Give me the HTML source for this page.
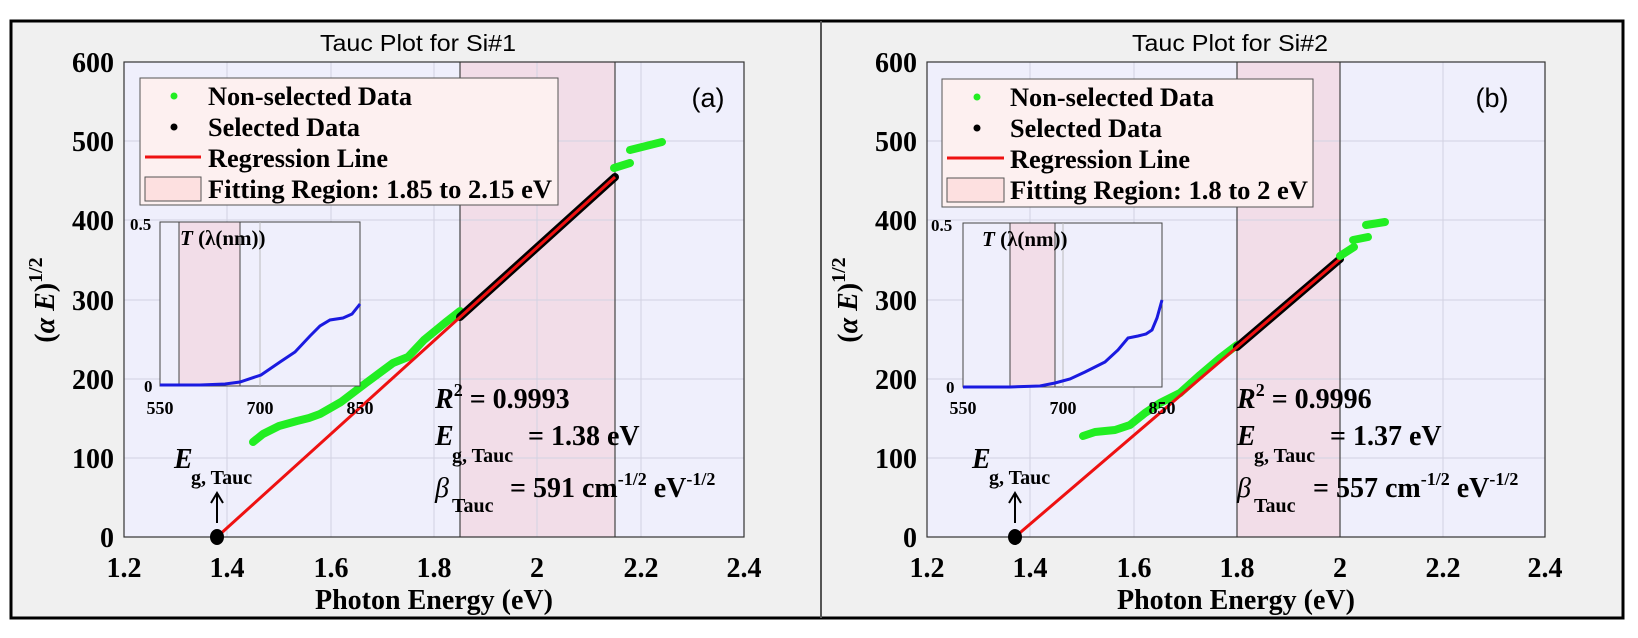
<!DOCTYPE html>
<html><head><meta charset="utf-8"><style>
html,body{margin:0;padding:0;background:#fff;}
svg{display:block;}
.t{font-family:"Liberation Serif",serif;font-weight:bold;fill:#000;}
.s{font-family:"Liberation Sans",sans-serif;fill:#000;}
</style></head><body>
<svg width="1638" height="638" viewBox="0 0 1638 638" xmlns="http://www.w3.org/2000/svg">
<rect x="11" y="21" width="1612" height="597" fill="#f0f0f0" stroke="#000" stroke-width="3"/>
<line x1="821" y1="21" x2="821" y2="618" stroke="#555" stroke-width="2"/>

<!-- LEFT PANEL -->
<g>
<rect x="124" y="62" width="620" height="475" fill="#efeffc"/>
<rect x="460" y="62" width="155" height="475" fill="#f2dde8"/>
<g stroke="#d2d2e2" stroke-width="1">
<line x1="227" y1="62" x2="227" y2="537"/><line x1="331" y1="62" x2="331" y2="537"/><line x1="434" y1="62" x2="434" y2="537"/><line x1="537" y1="62" x2="537" y2="537"/><line x1="641" y1="62" x2="641" y2="537"/>
<line x1="124" y1="458" x2="744" y2="458"/><line x1="124" y1="379" x2="744" y2="379"/><line x1="124" y1="300" x2="744" y2="300"/><line x1="124" y1="220" x2="744" y2="220"/><line x1="124" y1="141" x2="744" y2="141"/>
</g>
<line x1="460" y1="62" x2="460" y2="537" stroke="#444" stroke-width="1.2"/>
<line x1="615" y1="62" x2="615" y2="537" stroke="#444" stroke-width="1.2"/>
<rect x="124" y="62" width="620" height="475" fill="none" stroke="#333" stroke-width="1.2"/>
<text class="s" x="418" y="51" font-size="23" text-anchor="middle" textLength="196" lengthAdjust="spacingAndGlyphs">Tauc Plot for Si#1</text>
<g class="t" font-size="28" text-anchor="end">
<text x="114" y="547">0</text><text x="114" y="468">100</text><text x="114" y="389">200</text><text x="114" y="310">300</text><text x="114" y="230">400</text><text x="114" y="151">500</text><text x="114" y="72">600</text>
</g>
<g class="t" font-size="28" text-anchor="middle">
<text x="124" y="577">1.2</text><text x="227" y="577">1.4</text><text x="331" y="577">1.6</text><text x="434" y="577">1.8</text><text x="537" y="577">2</text><text x="641" y="577">2.2</text><text x="744" y="577">2.4</text>
</g>
<text class="t" x="434" y="609" font-size="28" text-anchor="middle">Photon Energy (eV)</text>
<text class="t" transform="translate(54,300) rotate(-90)" font-size="28" text-anchor="middle">(<tspan font-style="italic">α E</tspan>)<tspan font-size="20" dy="-12">1/2</tspan></text>
<text class="s" x="708" y="107" font-size="27" text-anchor="middle">(a)</text>
<polyline points="253,442 263,434 279,426 297,421 309,418 320,414 341,402 366,383 393,363 408,357 424,340 446,322 460,311" fill="none" stroke="#22ee22" stroke-width="8" stroke-linecap="round" stroke-linejoin="round"/>
<line x1="460" y1="317" x2="615" y2="177" stroke="#000" stroke-width="8" stroke-linecap="round"/>
<line x1="217" y1="537" x2="615" y2="177" stroke="#ee1111" stroke-width="3"/>
<line x1="614" y1="168" x2="630" y2="163" stroke="#22ee22" stroke-width="8" stroke-linecap="round"/>
<line x1="630" y1="150" x2="662" y2="142" stroke="#22ee22" stroke-width="8" stroke-linecap="round"/>
<ellipse cx="217" cy="537" rx="7" ry="8" fill="#000"/>
<rect x="160" y="222" width="200" height="164" fill="#efeffc" stroke="#444" stroke-width="1"/>
<rect x="179" y="222" width="61" height="164" fill="#f2dde8" stroke="#444" stroke-width="1"/>
<line x1="260" y1="222" x2="260" y2="386" stroke="#bbb" stroke-width="1"/>
<polyline points="160,385 200,385 225,384 240,382 261,375 280,362 295,352 310,336 320,326 330,320 343,318 352,314 360,304" fill="none" stroke="#1a1ae0" stroke-width="3"/>
<text class="t" x="130" y="230" font-size="17">0.5</text>
<text class="t" x="144" y="392" font-size="17">0</text>
<g class="t" font-size="18" text-anchor="middle"><text x="160" y="414">550</text><text x="260" y="414">700</text><text x="360" y="414">850</text></g>
<text class="t" x="180" y="245" font-size="21"><tspan font-style="italic">T</tspan> (λ(nm))</text>
<rect x="140" y="78" width="418" height="127" fill="#fdf0f0" stroke="#555" stroke-width="1"/>
<circle cx="174" cy="96" r="3.5" fill="#22ee22"/>
<circle cx="174" cy="127" r="3.5" fill="#000"/>
<line x1="145" y1="157" x2="201" y2="157" stroke="#ee1111" stroke-width="3"/>
<rect x="145" y="177" width="56" height="24" fill="#fde0e0" stroke="#555" stroke-width="1"/>
<g class="t" font-size="26">
<text x="208" y="105" textLength="204" lengthAdjust="spacingAndGlyphs">Non-selected Data</text>
<text x="208" y="136" textLength="152" lengthAdjust="spacingAndGlyphs">Selected Data</text>
<text x="208" y="167" textLength="180" lengthAdjust="spacingAndGlyphs">Regression Line</text>
<text x="208" y="198" textLength="344" lengthAdjust="spacingAndGlyphs">Fitting Region: 1.85 to 2.15 eV</text>
</g>
<g class="t" font-size="28">
<text x="435" y="408"><tspan font-style="italic">R</tspan><tspan font-size="18" dy="-12">2</tspan><tspan dy="12"> = 0.9993</tspan></text>
<text x="435" y="445" font-style="italic">E</text>
<text x="452" y="462" font-size="20">g, Tauc</text>
<text x="528" y="445">= 1.38 eV</text>
<text x="435" y="497" font-style="italic" font-weight="normal">β</text>
<text x="452" y="512" font-size="20">Tauc</text>
<text x="510" y="497">= 591 cm<tspan font-size="18" dy="-12">-1/2</tspan><tspan dy="12"> eV</tspan><tspan font-size="18" dy="-12">-1/2</tspan></text>
<text x="174" y="468" font-style="italic">E</text>
<text x="191" y="484" font-size="20">g, Tauc</text>
</g>
<line x1="217" y1="523" x2="217" y2="495" stroke="#000" stroke-width="2"/>
<polyline points="211,503 217,493 223,503" fill="none" stroke="#000" stroke-width="2"/>
</g>

<!-- RIGHT PANEL -->
<g>
<rect x="927" y="62" width="618" height="475" fill="#efeffc"/>
<rect x="1237" y="62" width="103" height="475" fill="#f2dde8"/>
<g stroke="#d2d2e2" stroke-width="1">
<line x1="1030" y1="62" x2="1030" y2="537"/><line x1="1134" y1="62" x2="1134" y2="537"/><line x1="1237" y1="62" x2="1237" y2="537"/><line x1="1340" y1="62" x2="1340" y2="537"/><line x1="1443" y1="62" x2="1443" y2="537"/>
<line x1="927" y1="458" x2="1545" y2="458"/><line x1="927" y1="379" x2="1545" y2="379"/><line x1="927" y1="300" x2="1545" y2="300"/><line x1="927" y1="220" x2="1545" y2="220"/><line x1="927" y1="141" x2="1545" y2="141"/>
</g>
<line x1="1237" y1="62" x2="1237" y2="537" stroke="#444" stroke-width="1.2"/>
<line x1="1340" y1="62" x2="1340" y2="537" stroke="#444" stroke-width="1.2"/>
<rect x="927" y="62" width="618" height="475" fill="none" stroke="#333" stroke-width="1.2"/>
<text class="s" x="1230" y="51" font-size="23" text-anchor="middle" textLength="196" lengthAdjust="spacingAndGlyphs">Tauc Plot for Si#2</text>
<g class="t" font-size="28" text-anchor="end">
<text x="917" y="547">0</text><text x="917" y="468">100</text><text x="917" y="389">200</text><text x="917" y="310">300</text><text x="917" y="230">400</text><text x="917" y="151">500</text><text x="917" y="72">600</text>
</g>
<g class="t" font-size="28" text-anchor="middle">
<text x="927" y="577">1.2</text><text x="1030" y="577">1.4</text><text x="1134" y="577">1.6</text><text x="1237" y="577">1.8</text><text x="1340" y="577">2</text><text x="1443" y="577">2.2</text><text x="1545" y="577">2.4</text>
</g>
<text class="t" x="1236" y="609" font-size="28" text-anchor="middle">Photon Energy (eV)</text>
<text class="t" transform="translate(857,300) rotate(-90)" font-size="28" text-anchor="middle">(<tspan font-style="italic">α E</tspan>)<tspan font-size="20" dy="-12">1/2</tspan></text>
<text class="s" x="1492" y="107" font-size="27" text-anchor="middle">(b)</text>
<polyline points="1083,436 1095,432 1115,430 1130,425 1145,413 1160,403 1180,393 1200,375 1220,358 1237,345" fill="none" stroke="#22ee22" stroke-width="8" stroke-linecap="round" stroke-linejoin="round"/>
<line x1="1237" y1="347" x2="1340" y2="259" stroke="#000" stroke-width="8" stroke-linecap="round"/>
<line x1="1015" y1="537" x2="1340" y2="259" stroke="#ee1111" stroke-width="3"/>
<line x1="1340" y1="256" x2="1354" y2="247" stroke="#22ee22" stroke-width="8" stroke-linecap="round"/>
<line x1="1353" y1="240" x2="1368" y2="237" stroke="#22ee22" stroke-width="8" stroke-linecap="round"/>
<line x1="1366" y1="225" x2="1385" y2="222" stroke="#22ee22" stroke-width="8" stroke-linecap="round"/>
<ellipse cx="1015" cy="537" rx="7" ry="8" fill="#000"/>
<rect x="963" y="223" width="199" height="164" fill="#efeffc" stroke="#444" stroke-width="1"/>
<rect x="1010" y="223" width="45" height="164" fill="#f2dde8" stroke="#444" stroke-width="1"/>
<line x1="1063" y1="223" x2="1063" y2="387" stroke="#bbb" stroke-width="1"/>
<polyline points="963,387 1010,387 1040,386 1055,383 1070,379 1085,372 1095,367 1105,362 1118,350 1128,338 1138,336 1146,334 1152,330 1157,318 1162,300" fill="none" stroke="#1a1ae0" stroke-width="3"/>
<text class="t" x="931" y="231" font-size="17">0.5</text>
<text class="t" x="946" y="393" font-size="17">0</text>
<g class="t" font-size="18" text-anchor="middle"><text x="963" y="414">550</text><text x="1063" y="414">700</text><text x="1162" y="414">850</text></g>
<text class="t" x="982" y="246" font-size="21"><tspan font-style="italic">T</tspan> (λ(nm))</text>
<rect x="942" y="79" width="371" height="128" fill="#fdf0f0" stroke="#555" stroke-width="1"/>
<circle cx="977" cy="97" r="3.5" fill="#22ee22"/>
<circle cx="977" cy="128" r="3.5" fill="#000"/>
<line x1="947" y1="158" x2="1004" y2="158" stroke="#ee1111" stroke-width="3"/>
<rect x="947" y="178" width="57" height="24" fill="#fde0e0" stroke="#555" stroke-width="1"/>
<g class="t" font-size="26">
<text x="1010" y="106" textLength="204" lengthAdjust="spacingAndGlyphs">Non-selected Data</text>
<text x="1010" y="137" textLength="152" lengthAdjust="spacingAndGlyphs">Selected Data</text>
<text x="1010" y="168" textLength="180" lengthAdjust="spacingAndGlyphs">Regression Line</text>
<text x="1010" y="199" textLength="298" lengthAdjust="spacingAndGlyphs">Fitting Region: 1.8 to 2 eV</text>
</g>
<g class="t" font-size="28">
<text x="1237" y="408"><tspan font-style="italic">R</tspan><tspan font-size="18" dy="-12">2</tspan><tspan dy="12"> = 0.9996</tspan></text>
<text x="1237" y="445" font-style="italic">E</text>
<text x="1254" y="462" font-size="20">g, Tauc</text>
<text x="1330" y="445">= 1.37 eV</text>
<text x="1237" y="497" font-style="italic" font-weight="normal">β</text>
<text x="1254" y="512" font-size="20">Tauc</text>
<text x="1313" y="497">= 557 cm<tspan font-size="18" dy="-12">-1/2</tspan><tspan dy="12"> eV</tspan><tspan font-size="18" dy="-12">-1/2</tspan></text>
<text x="972" y="468" font-style="italic">E</text>
<text x="989" y="484" font-size="20">g, Tauc</text>
</g>
<line x1="1015" y1="523" x2="1015" y2="495" stroke="#000" stroke-width="2"/>
<polyline points="1009,503 1015,493 1021,503" fill="none" stroke="#000" stroke-width="2"/>
</g>
</svg>
</body></html>
